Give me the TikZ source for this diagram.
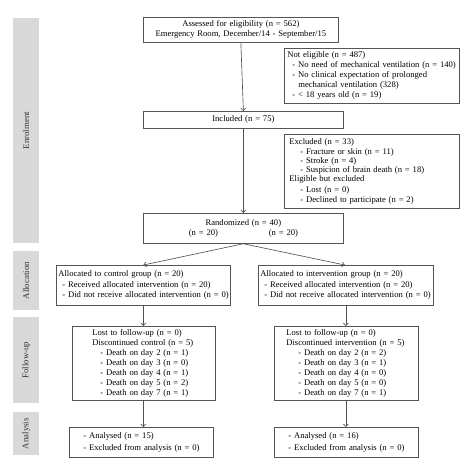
\documentclass[tikz,border=0pt]{standalone}
\usepackage{fontspec}
\setmainfont{Liberation Serif}
\usetikzlibrary{arrows.meta,calc}
\definecolor{boxgray}{HTML}{555555}
\definecolor{sidegray}{HTML}{D9D9D9}
\definecolor{labelgray}{HTML}{333333}
\newcommand\li[2]{\mbox{\hspace*{#1}#2}}
\begin{document}
\begin{tikzpicture}[x=1pt,y=-1pt,
  box/.style={draw=boxgray, line width=0.75pt, anchor=north west, inner xsep=0pt, inner ysep=1pt,
    font=\fontsize{8.6}{10}\selectfont, align=left, text=black},
  cbox/.style={box, align=center},
  side/.style={fill=sidegray, anchor=north west, minimum width=26pt, inner sep=0pt},
  sidelabel/.style={rotate=90, font=\fontsize{8.8}{9}\selectfont, text=labelgray},
  arr/.style={draw=boxgray, line width=0.65pt, -{Straight Barb[length=2.5pt,width=5pt]}}]
\useasboundingbox (0,0) rectangle (474,474);
% side bars
\node[side, minimum height=225pt] (s1) at (13,18) {};
\node[sidelabel] (l1) at (s1.center) {Enrolment};
\node[side, minimum height=59pt] (s2) at (13,251) {};
\node[sidelabel] (l2) at (s2.center) {Allocation};
\node[side, minimum height=86pt] (s3) at (13,317) {};
\node[sidelabel] (l3) at (s3.center) {Follow-up};
\node[side, minimum height=43pt] (s4) at (13,412) {};
\node[sidelabel] (l4) at (s4.center) {Analysis};
% boxes
\node[cbox, text width=195pt, minimum height=25pt] (ass) at (143,17)
  {Assessed for eligibility (n = 562)\\Emergency Room, December/14 - September/15};
\node[box, text width=175pt, minimum height=55pt] (ne) at (284,48)
  {\li{3pt}{Not eligible (n = 487)}\\
   \li{8pt}{- No need of mechanical ventilation (n = 140)}\\
   \li{8pt}{- No clinical expectation of prolonged}\\
   \li{14pt}{mechanical ventilation (328)}\\
   \li{8pt}{- < 18 years old (n = 19)}};
\node[cbox, text width=200pt, minimum height=17pt] (inc) at (143,111) {Included (n = 75)};
\node[box, text width=175pt, minimum height=74pt, font=\fontsize{8.6}{9.3}\selectfont] (exc) at (284,134)
  {\li{5pt}{Excluded (n = 33)}\\
   \li{16pt}{- Fracture or skin (n = 11)}\\
   \li{16pt}{- Stroke (n = 4)}\\
   \li{16pt}{- Suspicion of brain death (n = 18)}\\
   \li{5pt}{Eligible but excluded}\\[1.5pt]
   \li{16pt}{- Lost (n = 0)}\\
   \li{16pt}{- Declined to participate (n = 2)}};
\node[cbox, text width=200pt, minimum height=30pt] (ran) at (143,213)
  {Randomized (n = 40)\\
   \makebox[80pt]{\makebox[0pt]{(n = 20)}\hfill\makebox[0pt]{(n = 20)}}};
\node[box, text width=174pt, minimum height=40pt, font=\fontsize{8.6}{10.5}\selectfont] (ac) at (56,265)
  {\li{2pt}{Allocated to control group (n = 20)}\\
   \li{6pt}{- Received allocated intervention (n = 20)}\\
   \li{6pt}{- Did not receive allocated intervention (n = 0)}};
\node[box, text width=175pt, minimum height=40pt, font=\fontsize{8.6}{10.5}\selectfont] (ai) at (258,265)
  {\li{2pt}{Allocated to intervention group (n = 20)}\\
   \li{6pt}{- Received allocated intervention (n = 20)}\\
   \li{6pt}{- Did not receive allocated intervention (n = 0)}};
\node[box, text width=143pt, minimum height=74pt] (fc) at (72,326)
  {\li{20pt}{Lost to follow-up (n = 0)}\\
   \li{20pt}{Discontinued control (n = 5)}\\
   \li{28pt}{- Death on day 2 (n = 1)}\\
   \li{28pt}{- Death on day 3 (n = 0)}\\
   \li{28pt}{- Death on day 4 (n = 1)}\\
   \li{28pt}{- Death on day 5 (n = 2)}\\
   \li{28pt}{- Death on day 7 (n = 1)}};
\node[box, text width=144pt, minimum height=74pt] (fi) at (274,326)
  {\li{12pt}{Lost to follow-up (n = 0)}\\
   \li{12pt}{Discontinued intervention (n = 5)}\\
   \li{24pt}{- Death on day 2 (n = 2)}\\
   \li{24pt}{- Death on day 3 (n = 1)}\\
   \li{24pt}{- Death on day 4 (n = 0)}\\
   \li{24pt}{- Death on day 5 (n = 0)}\\
   \li{24pt}{- Death on day 7 (n = 1)}};
\node[box, text width=144pt, minimum height=30pt, font=\fontsize{8.6}{12}\selectfont] (nc) at (69,427)
  {\li{14pt}{- Analysed (n = 15)}\\
   \li{14pt}{- Excluded from analysis (n = 0)}};
\node[box, text width=144pt, minimum height=30pt, font=\fontsize{8.6}{12}\selectfont] (ni) at (274,427)
  {\li{14pt}{- Analysed (n = 16)}\\
   \li{14pt}{- Excluded from analysis (n = 0)}};
% connectors
\draw[arr] (ass.south) -- (inc.north);
\draw[arr] (inc.south) -- (ran.north);
\draw[arr] (ran.south) -- (ac.north);
\draw[arr] (ran.south) -- ($(ai.north)+(-1,0)$);
\draw[arr] (ac.south) -- (ac.south |- fc.north);
\draw[arr] (ai.south) -- (ai.south |- fi.north);
\draw[arr] (ac.south |- fc.south) -- (ac.south |- nc.north);
\draw[arr] (ai.south |- fi.south) -- (ai.south |- ni.north);
\end{tikzpicture}
\end{document}
